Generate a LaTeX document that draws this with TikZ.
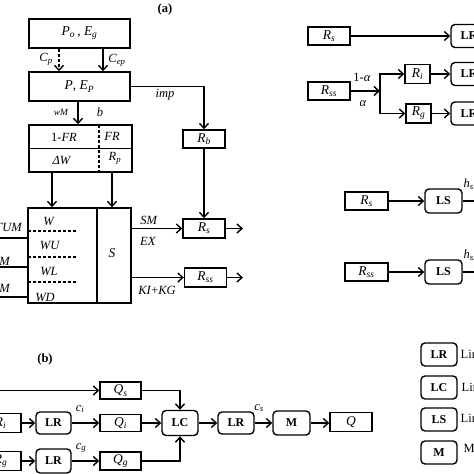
\documentclass[tikz,border=0pt]{standalone}
\usepackage{fontspec}
\setmainfont{Liberation Serif}
\usetikzlibrary{arrows.meta}
\newcommand{\vr}[2]{\textit{#1}\textsubscript{\textit{#2}}}

\begin{document}
\begin{tikzpicture}[x=1pt,y=-1pt,line width=1.4pt,
  >={Straight Barb[length=5pt,width=9pt]},
  box/.style={draw,rectangle,inner sep=0pt,font=\fontsize{13.5}{15}\selectfont},
  unit/.style={draw,rectangle,rounded corners=4pt,inner sep=0pt,minimum width=36pt,minimum height=23pt,font=\fontsize{12}{13}\selectfont\bfseries},
  lbl/.style={inner sep=0pt,font=\fontsize{12.5}{14}\selectfont},
  dsh/.style={dash pattern=on 3pt off 2pt}]
\useasboundingbox (0,0) rectangle (474,474);
\clip (0,0) rectangle (474,474);

% (a) water balance
\node[lbl,font=\fontsize{12.5}{14}\selectfont\bfseries] (la) at (165,9) {(a)};
\node[box,minimum width=101pt,minimum height=29pt] (pe) at (79.5,33.5) {\vr{P}{o}\,, \vr{E}{g}};
\node[box,minimum width=101pt,minimum height=29pt] (pep) at (79.5,86.5) {\textit{P}, \vr{E}{P}};
\draw[dsh,->] ([xshift=-20.5pt]pe.south) -- ([xshift=-20.5pt]pep.north);
\draw[->] ([xshift=23.5pt]pe.south) -- ([xshift=23.5pt]pep.north);
\node[lbl] (cp) at (46,59) {\vr{C}{p}};
\node[lbl] (cep) at (117,60) {\vr{C}{ep}};

\node[box,minimum width=103pt,minimum height=47pt] (fr) at (80.5,148.5) {};
\draw (29,148.5) -- (132,148.5);
\draw[dsh] (99,125) -- (99,172);
\node[lbl] (fr1) at (64,137) {1-\textit{FR}};
\node[lbl] (fr2) at (112,136) {\textit{FR}};
\node[lbl] (dw) at (62,160) {\textit{ΔW}};
\node[lbl] (rp) at (115,158) {\vr{R}{p}};
\draw[->] ([xshift=-1.5pt]pep.south) -- ([xshift=-2.5pt]fr.north);
\node[lbl,font=\fontsize{9.5}{11}\selectfont\itshape] (wm) at (61,112) {wM};
\node[lbl,font=\fontsize{12.5}{14}\selectfont\itshape] (b) at (100,112) {b};

\node[box,minimum width=42pt,minimum height=18pt] (rb) at (204,139) {\vr{R}{b}};
\draw[->] (pep.east) -| (rb.north);
\node[lbl,font=\fontsize{12.5}{14}\selectfont\itshape] (imp) at (165,95) {imp};

\node[box,minimum width=103pt,minimum height=95pt] (st) at (79.5,255.5) {};
\draw (97,208) -- (97,303);
\draw[dsh] (28,231) -- (77,231);
\draw[dsh] (28,257) -- (77,257);
\draw[dsh] (28,282) -- (77,282);
\node[lbl] (w) at (49,221) {\textit{W}};
\node[lbl] (wu) at (50,245) {\textit{WU}};
\node[lbl] (wl) at (49,271) {\textit{WL}};
\node[lbl] (wd) at (45,297) {\textit{WD}};
\node[lbl,font=\fontsize{13.5}{15}\selectfont] (s) at (112,253) {\textit{S}};
\draw[->] ([xshift=-28.5pt]fr.south) -- ([xshift=-27.5pt]st.north);
\draw[->] ([xshift=31.5pt]fr.south) -- ([xshift=32.5pt]st.north);

\coordinate (tum) at (-5,238);
\coordinate (m1) at (-5,267);
\coordinate (m2) at (-5,297);
\draw (tum) -- (tum -| st.west);
\draw (m1) -- (m1 -| st.west);
\draw (m2) -- (m2 -| st.west);
\node[lbl,anchor=east] (ltum) at (23,227) {\textit{TUM}};
\node[lbl,anchor=east] (lm1) at (11,261) {\textit{M}};
\node[lbl,anchor=east] (lm2) at (11,288) {\textit{M}};

\node[box,minimum width=42pt,minimum height=19pt] (rs) at (204,228.5) {\vr{R}{s}};
\node[box,minimum width=42pt,minimum height=19pt] (rss) at (205.5,277.5) {\vr{R}{ss}};
\draw[->] (st.east |- rs.west) -- (rs.west);
\draw[->] (st.east |- rss.west) -- (rss.west);
\draw[->] (rb) -- (rs);
\coordinate (rso) at (243,228.5);
\coordinate (rsso) at (243,277.5);
\draw[->] (rs) -- (rso);
\draw[->] (rss) -- (rsso);
\node[lbl] (sm) at (149,220) {\textit{SM}};
\node[lbl] (ex) at (148,241) {\textit{EX}};
\node[lbl] (kikg) at (157,290) {\textit{KI}+\textit{KG}};

% (a) routing, right side
\node[box,minimum width=42pt,minimum height=18pt] (rs2) at (329,36) {\vr{R}{s}};
\node[unit] (lr1) at (469,36) {LR};
\draw[->] (rs2) -- (lr1);
\node[box,minimum width=42pt,minimum height=18pt] (rss2) at (329,91) {\vr{R}{ss}};
\coordinate (jn) at (380,91);
\draw[->] (rss2) -- (jn);
\node[box,minimum width=25pt,minimum height=19pt] (ri) at (417.5,74) {\vr{R}{i}};
\node[box,minimum width=25pt,minimum height=19pt] (rg) at (418.5,113.5) {\vr{R}{g}};
\draw[->] (jn) |- (ri);
\draw[->] (jn) |- (rg);
\node[unit] (lr2) at (469,74) {LR};
\node[unit] (lr3) at (469,113.5) {LR};
\draw[->] (ri) -- (lr2);
\draw[->] (rg) -- (lr3);
\node[lbl] (oma) at (362,77) {1-\textit{α}};
\node[lbl] (al) at (363,104) {\textit{α}};

\node[box,minimum width=43pt,minimum height=18pt] (rs3) at (366.5,201) {\vr{R}{s}};
\node[unit,minimum width=37pt,minimum height=24pt] (ls1) at (443.5,201) {LS};
\draw[->] (rs3) -- (ls1);
\coordinate (hs1) at (480,201);
\draw (ls1) -- (hs1);
\node[lbl,anchor=west] (h1) at (463,184) {\vr{h}{s}};
\node[box,minimum width=43pt,minimum height=18pt] (rss3) at (366.5,272) {\vr{R}{ss}};
\node[unit,minimum width=37pt,minimum height=24pt] (ls2) at (443.5,272) {LS};
\draw[->] (rss3) -- (ls2);
\coordinate (hs2) at (480,272);
\draw (ls2) -- (hs2);
\node[lbl,anchor=west] (h2) at (463,255) {\vr{h}{ss}};

% (b) channel routing
\node[lbl,font=\fontsize{12.5}{14}\selectfont\bfseries] (lb) at (45,359) {(b)};
\node[box,minimum width=41pt,minimum height=17pt] (qs) at (120.5,390.5) {\vr{Q}{s}};
\coordinate (qsin) at (-5,390.5);
\draw[->] (qsin) -- (qs);
\node[unit,minimum height=25pt] (lc) at (180,423) {LC};
\draw[->] (qs.east) -| (lc.north);

\node[box,minimum width=41pt,minimum height=19pt] (ri2) at (0.5,423) {\vr{R}{i}};
\node[unit,minimum width=35pt,minimum height=22pt] (lri) at (53.5,423) {LR};
\node[box,minimum width=41pt,minimum height=17pt] (qi) at (120.5,423) {\vr{Q}{i}};
\draw[->] (ri2) -- (lri);
\draw[->] (lri) -- (qi);
\draw[->] (qi) -- (lc);
\node[lbl] (ci) at (80,409) {\vr{c}{i}};

\node[box,minimum width=41pt,minimum height=19pt] (rg2) at (0.5,461) {\vr{R}{g}};
\node[unit,minimum width=35pt,minimum height=24pt] (lrg) at (53.5,461) {LR};
\node[box,minimum width=41pt,minimum height=18pt] (qg) at (120.5,461) {\vr{Q}{g}};
\draw[->] (rg2) -- (lrg);
\draw[->] (lrg) -- (qg);
\draw[->] (qg.east) -| (lc.south);
\node[lbl] (cg) at (81,448) {\vr{c}{g}};

\node[unit,minimum height=22pt] (lr4) at (236,423) {LR};
\node[unit,minimum width=37pt,minimum height=24pt] (m) at (291.5,423) {M};
\node[box,minimum width=42pt,minimum height=19pt] (q) at (351,422) {\textit{Q}};
\draw[->] (lc) -- (lr4);
\draw[->] (lr4) -- (m);
\draw[->] (m) -- (m -| q.west);
\node[lbl] (cs) at (259,408) {\vr{c}{s}};

% legend
\node[unit] (klr) at (439,354.5) {LR};
\node[unit] (klc) at (439,387.5) {LC};
\node[unit] (kls) at (439,419.5) {LS};
\node[unit] (km) at (439,452.5) {M};
\node[lbl,anchor=west] (tlr) at (460,354.5) {Linear reservoir};
\node[lbl,anchor=west] (tlc) at (461,387.5) {Linear channel};
\node[lbl,anchor=west] (tls) at (460,419.5) {Linear storage};
\node[lbl,anchor=west] (tm) at (463,450) {Muskingum};
\end{tikzpicture}
\end{document}
